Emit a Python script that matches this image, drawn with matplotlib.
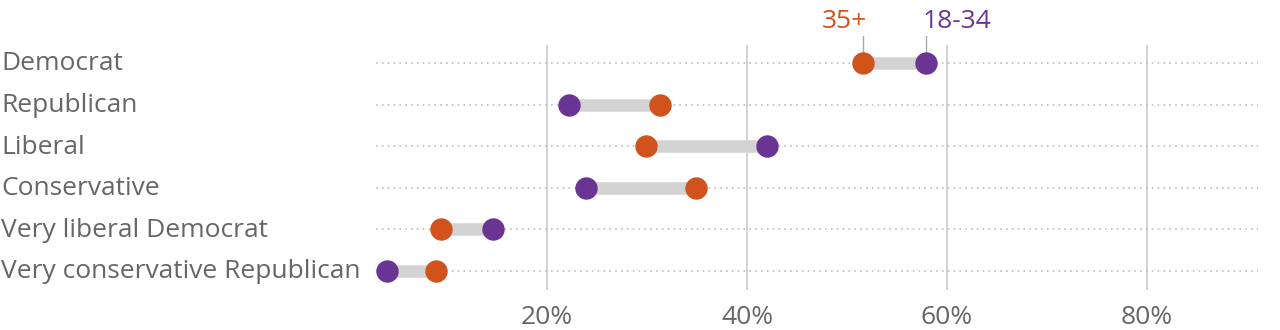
import matplotlib
matplotlib.use("Agg")
import matplotlib.pyplot as plt
import numpy as np

plt.rcParams['font.family'] = ['Open Sans', 'DejaVu Sans']

# data
groups = ['Democrat', 'Republican', 'Liberal', 'Conservative',
          'Very liberal Democrat', 'Very conservative Republican']
young = [57.9, 22.2, 42.0, 23.9, 14.6, 4.0]     # 18-34
older = [51.6, 31.3, 29.9, 34.9, 9.4, 8.9]      # 35+
xticks = [20, 40, 60, 80]
xticklabels = ['20%', '40%', '60%', '80%']

ORANGE = '#D0521C'
PURPLE = '#6A3494'
GREY = '#666666'
FS = 19

W, H = 1280, 330
fig = plt.figure(figsize=(12.8, 3.3), dpi=100)
ax = fig.add_axes([376 / W, 1 - 290 / H, (1258 - 376) / W, 245 / H])
ax.set_xlim(2.9, 91.1)
ax.set_ylim(5.457, -0.433)
for s in ax.spines.values():
    s.set_visible(False)
ax.set_yticks([])
ax.set_xticks([])

for x in xticks:
    ax.axvline(x, color='#d4d4d4', lw=1.5, zorder=0)

ys = np.arange(len(groups))
for y, g in zip(ys, groups):
    ax.plot([2.9, 91.1], [y, y], color='#bdbdbd', lw=1.2, ls=(0, (1, 2.5)), zorder=1)
    fig.text(1 / W, 1 - (64 + y * 41.6) / H, g, ha='left', va='center',
             fontsize=FS, color=GREY)

for y, a, b in zip(ys, young, older):
    ax.plot([a, b], [y, y], color='#d3d3d3', lw=9, solid_capstyle='butt', zorder=2)
ax.scatter(older, ys, s=260, color=ORANGE, zorder=3, linewidths=0)
ax.scatter(young, ys, s=260, color=PURPLE, zorder=3, linewidths=0)

# x tick labels
trans = ax.get_xaxis_transform()
for x, lab in zip(xticks, xticklabels):
    ax.text(x, -27 / 245, lab, transform=trans,
            ha='center', va='center', fontsize=FS, color=GREY)

# series labels above the first row
for x, lab, col, ha, dx in [(older[0], '35+', ORANGE, 'right', 0.4),
                            (young[0], '18-34', PURPLE, 'left', -0.3)]:
    ax.plot([x, x], [(290 - 36) / 245, (290 - 52) / 245],
            transform=trans, color='#aaaaaa', lw=1, clip_on=False)
    ax.text(x + dx, (290 - 21) / 245, lab, transform=trans, ha=ha, va='center',
            fontsize=FS, color=col)

fig.savefig('out.png', dpi=100)
